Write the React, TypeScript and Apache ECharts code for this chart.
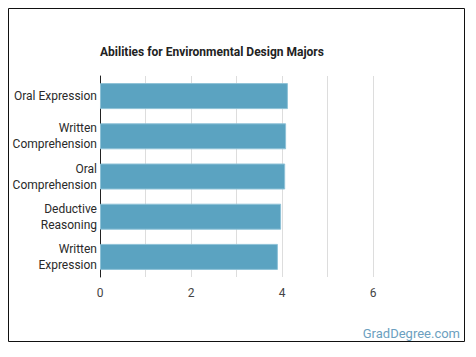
import React, { useEffect, useRef } from "react";
import * as echarts from "echarts";

const categories = [
  "Oral Expression",
  "Written\nComprehension",
  "Oral\nComprehension",
  "Deductive\nReasoning",
  "Written\nExpression",
];
const values = [4.13, 4.09, 4.07, 3.98, 3.91];
const tickLabels = ["0", "", "2", "", "4", "", "6", ""];

export default function App() {
  const ref = useRef<HTMLDivElement>(null);
  useEffect(() => {
    const chart = echarts.init(ref.current!, null, { renderer: "svg" });
    chart.setOption({
      animation: false,
      textStyle: { fontFamily: "Roboto" },
      title: {
        text: "Abilities for Environmental Design Majors",
        left: 95,
        top: 41,
        textStyle: { fontSize: 12, fontWeight: "bold", color: "#222", fontFamily: "Roboto" },
      },
      grid: { left: 100, right: 57.5, top: 76, bottom: 80 },
      xAxis: {
        type: "value",
        min: 0,
        max: 7,
        interval: 1,
        axisLine: { show: false },
        axisTick: { show: false },
        axisLabel: {
          fontSize: 12,
          color: "#444",
          margin: 10,
          formatter: (v: number) => tickLabels[Math.round(v)] ?? "",
        },
        splitLine: { show: true, showMaxLine: false, lineStyle: { color: "#ddd", width: 1 } },
      },
      yAxis: {
        type: "category",
        data: categories,
        inverse: true,
        axisLine: { show: true, lineStyle: { color: "#222", width: 1 } },
        axisTick: { show: false },
        axisLabel: { fontSize: 12, color: "#2a2a2a", lineHeight: 16, margin: 3 },
      },
      series: [
        {
          type: "bar",
          data: values,
          barWidth: 26,
          itemStyle: { color: "#5ba3c1", borderColor: "#8fc2d7", borderWidth: 1 },
        },
      ],
      graphic: [
        {
          type: "rect",
          shape: { x: 8.5, y: 8.5, width: 456, height: 333 },
          style: { fill: "none", stroke: "#111", lineWidth: 1 },
          silent: true,
        },
        {
          type: "text",
          right: 16,
          top: 327,
          style: { text: "GradDegree.com", fill: "#6c9fc0", fontSize: 13, fontFamily: "Roboto" },
        },
      ],
    });
    return () => chart.dispose();
  }, []);
  return (
    <div
      ref={ref}
      style={{ position: "absolute", left: 0, top: 0, width: 476, height: 357, background: "#fff" }}
    />
  );
}
